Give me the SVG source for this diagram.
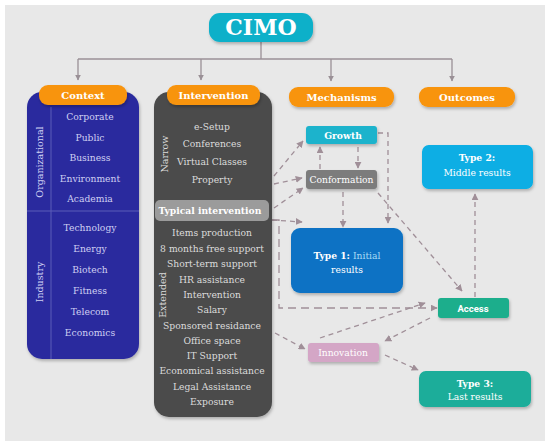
<svg xmlns="http://www.w3.org/2000/svg" width="550" height="446" viewBox="0 0 550 446">
<defs>
<filter id="sh" x="-20%" y="-20%" width="140%" height="150%">
<feDropShadow dx="1" dy="2" stdDeviation="1.5" flood-color="#000" flood-opacity="0.25"/>
</filter>
<marker id="ah" viewBox="0 0 10 10" refX="9" refY="5" markerWidth="7" markerHeight="7" markerUnits="userSpaceOnUse" orient="auto">
<path d="M0,0 L10,5 L0,10 z" fill="#a08f98"/>
</marker>
<marker id="at" viewBox="0 0 10 10" refX="9" refY="5" markerWidth="6" markerHeight="6" markerUnits="userSpaceOnUse" orient="auto">
<path d="M0,0 L10,5 L0,10 z" fill="#9a9096"/>
</marker>
<style>
.t{font-family:"DejaVu Serif","Liberation Serif",serif;}
.hd{font-family:"DejaVu Serif","Liberation Serif",serif;font-weight:bold;font-size:10px;fill:#fff;text-anchor:middle;}
.ci{font-family:"DejaVu Serif","Liberation Serif",serif;font-size:9.2px;fill:#cfd0f2;text-anchor:middle;}
.ii{font-family:"DejaVu Serif","Liberation Serif",serif;font-size:9.2px;fill:#dcdcdc;text-anchor:middle;}
.vt{font-family:"DejaVu Serif","Liberation Serif",serif;font-size:9.5px;text-anchor:middle;}
.bx{font-family:"DejaVu Serif","Liberation Serif",serif;font-size:9.2px;fill:#fff;text-anchor:middle;}
.top{fill:none;stroke:#9a9096;stroke-width:1.3;}
.dl{fill:none;stroke:#a08f98;stroke-width:1.3;stroke-dasharray:5,4;}
.dl2{fill:none;stroke:#a08f98;stroke-width:1.3;stroke-dasharray:8,5;}
</style>
</defs>
<rect x="5" y="5" width="540" height="436" fill="#e8e8e8"/>

<g id="connectors">
<path class="top" d="M261,42 V59 M78,59 H452"/>
<path class="top" d="M78,59 V80" marker-end="url(#at)"/>
<path class="top" d="M201,59 V80" marker-end="url(#at)"/>
<path class="top" d="M331,59 V81" marker-end="url(#at)"/>
<path class="top" d="M452,59 V81" marker-end="url(#at)"/>

<path class="dl" d="M274,176 L303,141" marker-end="url(#ah)"/>
<path class="dl" d="M274,184 L302,178" marker-end="url(#ah)"/>
<path class="dl" d="M274,208 L303,188" marker-end="url(#ah)"/>
<path class="dl" d="M272,220 L302,222" marker-end="url(#ah)"/>
<path class="dl" d="M320,169 V147" marker-end="url(#ah)"/>
<path class="dl" d="M358,147 V168" marker-end="url(#ah)"/>
<path class="dl" d="M343,192 V227" marker-end="url(#ah)"/>
<path class="dl" d="M378,133 H388 V223" marker-end="url(#ah)"/>
<path class="dl" d="M378,193 L462,291" marker-end="url(#ah)"/>
<path class="dl" d="M475,297 V194" marker-end="url(#ah)"/>
<path class="dl2" d="M272,220 H279 V308 H437" marker-end="url(#ah)"/>
<path class="dl" d="M320,338 L425,303" marker-end="url(#ah)"/>
<path class="dl" d="M430,318 L385,341" marker-end="url(#ah)"/>
<path class="dl" d="M275,333 L305,349" marker-end="url(#ah)"/>
<path class="dl" d="M385,355 L418,370" marker-end="url(#ah)"/>
</g>

<g id="cimo">
<rect x="209" y="13" width="104" height="29" rx="11" fill="#0bb0c9" filter="url(#sh)"/>
<text x="261" y="35" class="t" font-size="22" font-weight="bold" fill="#fff" text-anchor="middle">CIMO</text>
</g>

<g id="context">
<rect x="27" y="92" width="112" height="267" rx="15" fill="#2b2c9e" filter="url(#sh)"/>
<path d="M51,107 V359 M27,211 H139" stroke="#5a5cb8" stroke-width="1" fill="none"/>
<rect x="39" y="85" width="88" height="20" rx="9" fill="#f8940f" filter="url(#sh)"/>
<text x="83" y="98.5" class="hd">Context</text>
<text class="vt" fill="#cfd0f2" transform="translate(42.5,162) rotate(-90)">Organizational</text>
<text class="vt" fill="#cfd0f2" transform="translate(42.5,282) rotate(-90)">Industry</text>
<text x="90" y="119.5" class="ci">Corporate</text>
<text x="90" y="140.5" class="ci">Public</text>
<text x="90" y="160.5" class="ci">Business</text>
<text x="90" y="181.5" class="ci">Environment</text>
<text x="90" y="201.5" class="ci">Academia</text>
<text x="90" y="230.5" class="ci">Technology</text>
<text x="90" y="251.5" class="ci">Energy</text>
<text x="90" y="272.5" class="ci">Biotech</text>
<text x="90" y="293.5" class="ci">Fitness</text>
<text x="90" y="314.5" class="ci">Telecom</text>
<text x="90" y="335.5" class="ci">Economics</text>
</g>

<g id="intervention">
<rect x="154" y="92" width="118" height="325" rx="15" fill="#4b4b4b" filter="url(#sh)"/>
<rect x="167" y="85" width="93" height="20" rx="9" fill="#f8940f" filter="url(#sh)"/>
<text x="213.5" y="98.5" class="hd">Intervention</text>
<text class="vt" fill="#dcdcdc" transform="translate(167.5,154) rotate(-90)">Narrow</text>
<text class="vt" fill="#dcdcdc" transform="translate(165.5,295) rotate(-90)">Extended</text>
<text x="212" y="130.3" class="ii">e-Setup</text>
<text x="212" y="147.3" class="ii">Conferences</text>
<text x="212" y="165.3" class="ii">Virtual Classes</text>
<text x="212" y="183.3" class="ii">Property</text>
<rect x="155" y="200" width="114" height="21" rx="5" fill="#9b9b9b"/>
<text x="210" y="214.3" class="t" font-size="9.2" font-weight="bold" fill="#fff" text-anchor="middle">Typical intervention</text>
<text x="212" y="236.3" class="ii">Items production</text>
<text x="212" y="251.8" class="ii">8 months free support</text>
<text x="212" y="267.3" class="ii">Short-term support</text>
<text x="212" y="282.6" class="ii">HR assistance</text>
<text x="212" y="297.9" class="ii">Intervention</text>
<text x="212" y="313.2" class="ii">Salary</text>
<text x="212" y="328.5" class="ii">Sponsored residance</text>
<text x="212" y="343.8" class="ii">Office space</text>
<text x="212" y="359.1" class="ii">IT Support</text>
<text x="212" y="374.4" class="ii">Economical assistance</text>
<text x="212" y="389.7" class="ii">Legal Assistance</text>
<text x="212" y="405" class="ii">Exposure</text>
</g>

<g id="mechanisms">
<rect x="289" y="87" width="105" height="20" rx="9" fill="#f8940f" filter="url(#sh)"/>
<text x="341.5" y="100.5" class="hd">Mechanisms</text>
</g>

<g id="outcomes">
<rect x="419" y="87" width="96" height="20" rx="9" fill="#f8940f" filter="url(#sh)"/>
<text x="467" y="100.5" class="hd">Outcomes</text>
</g>

<g id="growth">
<rect x="306" y="126" width="71" height="18" rx="3" fill="#1bb3cc" filter="url(#sh)"/>
<text x="343" y="138.5" class="bx" font-weight="bold">Growth</text>
</g>

<g id="conformation">
<rect x="306" y="170" width="71" height="19" rx="3" fill="#7b7b7b" filter="url(#sh)"/>
<text x="341.5" y="183" class="bx" font-size="9.5">Conformation</text>
</g>

<g id="type1">
<rect x="291" y="228" width="112" height="65" rx="9" fill="#0a72c4" filter="url(#sh)"/>
<text x="347" y="258.5" class="bx"><tspan font-weight="bold">Type 1:</tspan><tspan fill="#a8dcf5"> Initial</tspan></text>
<text x="347" y="272.5" class="bx" fill="#a8dcf5">results</text>
</g>

<g id="type2">
<rect x="422" y="145" width="111" height="44" rx="7" fill="#07aee4" filter="url(#sh)"/>
<text x="477" y="160.5" class="bx" font-weight="bold">Type 2:</text>
<text x="477" y="175.5" class="bx" fill="#cdeefa">Middle results</text>
</g>

<g id="access">
<rect x="438" y="298" width="71" height="20" rx="3" fill="#1bae8c" filter="url(#sh)"/>
<text x="473" y="311.5" font-family="Roboto,'Liberation Sans',sans-serif" font-size="9.5" font-weight="bold" fill="#fff" text-anchor="middle">Access</text>
</g>

<g id="type3">
<rect x="419" y="371" width="112" height="36" rx="7" fill="#1aad9a" filter="url(#sh)"/>
<text x="475" y="387" class="bx" font-weight="bold">Type 3:</text>
<text x="475" y="399.5" class="bx" fill="#c6eee6">Last results</text>
</g>

<g id="innovation">
<rect x="308" y="343" width="71" height="19" rx="3" fill="#d4a6c6" filter="url(#sh)"/>
<text x="343" y="356" class="bx" fill="#f6eef4">Innovation</text>
</g>
</svg>
